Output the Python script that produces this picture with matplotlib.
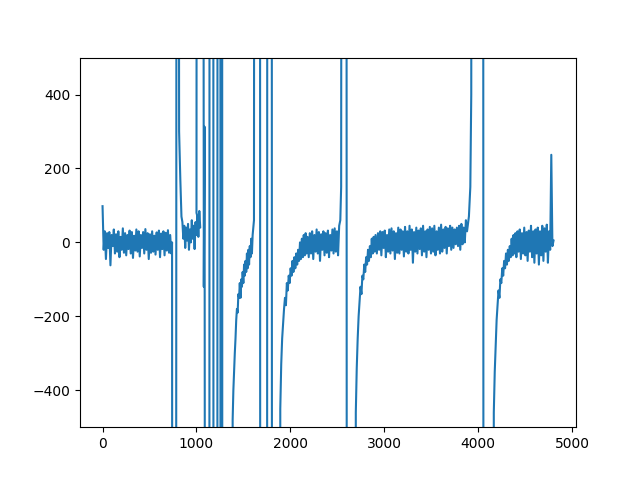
import numpy as np
import matplotlib
matplotlib.use("Agg")
import matplotlib.pyplot as plt

# noise segments: start x, step, values
seg1_x0, seg1_step = 0, 12
seg1_y = [98, -20, 30, -45, 25, -15, 28, -62, 20, -10, 35, -30, 22, -25, 30, -40, 15, -20, 38, -28,
          25, -35, 20, -18, 32, -30, 28, -42, 18, -22, 35, -25, 30, -38, 20, -15, 28, -30, 36, -20,
          25, -45, 22, -28, 30, -25, 18, -33, 27, -20, 32, -40, 24, -18, 30, -35, 26, -22, 33, -28, 20, -30]
jump1_x = [740, 745, 780, 790, 806, 815, 828, 840]
jump1_y = [0, -3000, -3000, 3000, 3000, 300, 170, 70]
seg2_x0, seg2_step = 850, 10
seg2_y = [55, 10, 45, -15, 40, 5, 50, -20, 35, 0, 60, 10, 45, -18, 55, 20, 70, 15, 85, 40]
jump2_x = [1000, 1005, 1068, 1078, 1086, 1095, 1136, 1140, 1178, 1182, 1221, 1225, 1253, 1257, 1272, 1276, 1380]
jump2_y = [80, 3000, 3000, -120, 313, -3000, -3000, 3000, 3000, -3000, -3000, 3000, 3000, -3000, 3000, -3000, -3000]
rise1_x0, rise1_step = 1385, 7.6
rise1_y = [-480, -400, -350, -300, -260, -210, -180, -190, -140, -150, -110, -150, -100, -120, -80, -110, -60, -90,
           -50, -80, -30, -70, -20, -60, -10, -40, 10, -30, 20, 40]
jump3_x = [1612, 1618, 1675, 1680, 1750, 1755, 1800, 1805, 1888]
jump3_y = [60, 3000, 3000, -3000, -3000, 3000, 3000, -3000, -3000]
rise2_x0, rise2_step = 1892, 10
rise2_y = [-450, -330, -260, -220, -180, -150, -170, -110, -130, -90, -110, -70, -90, -50, -80, -40, -70, -30, -60,
           -20, -50, 0, -45, 10, -40, 20, -35, 25, -30, 15]
seg3_x0, seg3_step = 2195, 12
seg3_y = [-40, 25, -30, 30, -45, 20, -25, 35, -30, 28, -50, 22, -20, 30, -35, 25, -28, 32, -40, 20, -22, 35,
          -30, 38, -25, 30, -35, 45, 60]
jump4_x = [2540, 2548, 2595, 2602, 2690]
jump4_y = [150, 3000, 3000, -3000, -3000]
rise3_x0, rise3_step = 2696, 10
rise3_y = [-460, -340, -260, -200, -160, -120, -140, -90, -100, -60, -80, -40, -60, -20, -50, -10, -40, 10, -30,
           15, -25, 20]
seg4_x0, seg4_step = 2920, 12
seg4_y = [-30, 25, -20, 30, -35, 28, -15, 32, -40, 20, -25, 35, -30, 38, -22, 30, -45, 25, -28, 40, -30, 35,
          -20, 30, -38, 42, -25, 30, -30, 45, -20, 35, -55, 28, -25, 40, -30, 32, -18, 38, -35, 45, -25, 30,
          -40, 35, -20, 42, -30, 38, -25, 45, -35, 30, -20, 40, -30, 48, -25, 35, -15, 42, -30, 38, -10, 45,
          -20, 40, -15, 35, -5, 40, -10, 45, -20, 50, -5, 40, 0, 60, 30]
jump5_x = [3900, 3915, 3925, 3932, 4050, 4057, 4160]
jump5_y = [70, 150, 400, 3000, 3000, -3000, -3000]
rise4_x0, rise4_step = 4165, 10
rise4_y = [-460, -350, -280, -210, -170, -130, -150, -100, -110, -70, -90, -50, -70, -30, -60, -20, -50, -10,
           -40, 10, -35, 20, -30, 25]
seg5_x0, seg5_step = 4405, 12
seg5_y = [-40, 30, -25, 35, -45, 25, -30, 40, -35, 28, -50, 32, -25, 45, -40, 30, -55, 35, -30, 40, -60, 30,
          -35, 45, -50, 38, -25, 48, -55, 30, -20, 237, -10, 5]


def seg(x0, step, ys):
    return list(x0 + step * np.arange(len(ys))), list(ys)


xs, ys = [], []
parts = [seg(seg1_x0, seg1_step, seg1_y), (jump1_x, jump1_y), seg(seg2_x0, seg2_step, seg2_y),
         (jump2_x, jump2_y), seg(rise1_x0, rise1_step, rise1_y), (jump3_x, jump3_y),
         seg(rise2_x0, rise2_step, rise2_y), seg(seg3_x0, seg3_step, seg3_y), (jump4_x, jump4_y),
         seg(rise3_x0, rise3_step, rise3_y), seg(seg4_x0, seg4_step, seg4_y), (jump5_x, jump5_y),
         seg(rise4_x0, rise4_step, rise4_y), seg(seg5_x0, seg5_step, seg5_y)]
for px, py in parts:
    xs += list(px)
    ys += list(py)

fig, ax = plt.subplots(figsize=(6.4, 4.8), dpi=100)
ax.plot(xs, ys, color="#1f77b4")
ax.set_ylim(-500, 500)
ax.set_xlim(-240, 5040)
fig.savefig("out.png")
